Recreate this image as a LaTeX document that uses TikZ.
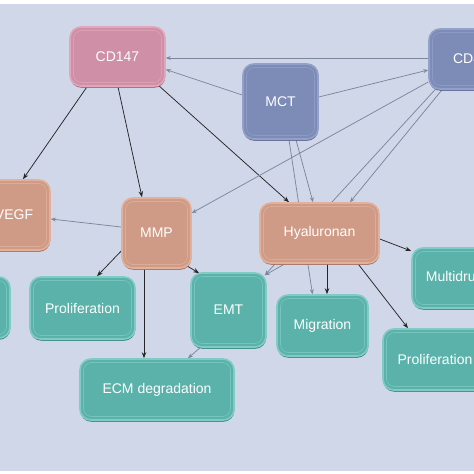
\documentclass[tikz,border=0pt]{standalone}
\usepackage{fontspec}
\setmainfont{Liberation Sans}
\usetikzlibrary{arrows.meta,calc,shadows,backgrounds}
\definecolor{bgc}{HTML}{D0D7E9}
\definecolor{pinkF}{HTML}{CF8FA6}
\definecolor{pinkD}{HTML}{A8687F}
\definecolor{pinkL}{HTML}{E6AEC0}
\definecolor{blueF}{HTML}{7D8CB7}
\definecolor{blueD}{HTML}{5C6A95}
\definecolor{blueL}{HTML}{9AA8CF}
\definecolor{oraF}{HTML}{CF9B86}
\definecolor{oraD}{HTML}{A9725F}
\definecolor{oraL}{HTML}{E8B8A3}
\definecolor{tealF}{HTML}{5AB2AA}
\definecolor{tealD}{HTML}{3B8B84}
\definecolor{tealL}{HTML}{8DD5CD}
\definecolor{darkLn}{HTML}{262626}
\definecolor{greyLn}{HTML}{7B879F}
\tikzset{
  boxbase/.style={rectangle, rounded corners=11pt, line width=1.6pt, text=white,
    font=\fontsize{14}{16}\selectfont, inner sep=0pt},
  bx/.style n args={3}{boxbase, fill=#1, draw=#3!75!#1,
    drop shadow={shadow xshift=0.3pt, shadow yshift=-1.8pt, opacity=0.9, fill=#2},
    path picture={\draw[#3!55!#1, line width=0.7pt, rounded corners=8pt]
      ([shift={(3.5pt,3.5pt)}]path picture bounding box.south west) rectangle
      ([shift={(-3.5pt,-3.5pt)}]path picture bounding box.north east);}},
  pinkbox/.style={bx={pinkF}{pinkD}{pinkL}},
  bluebox/.style={bx={blueF}{blueD}{blueL}},
  orabox/.style={bx={oraF}{oraD}{oraL}},
  tealbox/.style={bx={tealF}{tealD}{tealL}},
  sz/.style 2 args={minimum width=#1pt, minimum height=#2pt},
  dk/.style={draw=darkLn, line width=0.75pt, -{Stealth[length=6pt,width=4.5pt]}},
  gr/.style={draw=greyLn, line width=0.75pt, -{Stealth[length=5pt,width=4pt]}}
}
\begin{document}
\begin{tikzpicture}[x=1pt,y=-1pt]
\useasboundingbox (0,0) rectangle (474,474);
\begin{pgfonlayer}{background}
\fill[white] (0,0) rectangle (474,474);
\fill[bgc] (0,4) rectangle (474,471);
\end{pgfonlayer}
% nodes
\node[pinkbox, sz={95}{59}] (cd147) at (117.5,56.5) {CD147};
\node[bluebox, sz={75}{75}] (mct) at (280.5,101.5) {MCT};
\node[bluebox, sz={84}{60}] (cd44) at (471,59) {CD44};
\node[orabox, sz={72}{70}] (vegf) at (14,215) {VEGF};
\node[orabox, sz={69}{70}] (mmp) at (156.5,233) {MMP};
\node[orabox, sz={119}{60}] (hya) at (319.5,233) {Hyaluronan};
\node[tealbox, sz={153}{60}] (multi) at (488.5,278) {Multidrug resistance};
\node[tealbox, sz={80}{61}] (leftn) at (-30,307.5) {};
\node[tealbox, sz={105}{62}] (prolL) at (82.5,308) {Proliferation};
\node[tealbox, sz={75}{74}] (emt) at (228.5,310) {EMT};
\node[tealbox, sz={91}{61}] (mig) at (322.5,325.5) {Migration};
\node[tealbox, sz={104}{61}] (prolR) at (435,359.5) {Proliferation};
\node[tealbox, sz={154}{61}] (ecm) at (157,389.5) {ECM degradation};
% connectors
\begin{pgfonlayer}{background}
\draw[dk] ($(cd147.south)+(-30.5,0)$) -- ($(vegf.north)+(9,0)$);
\draw[dk] ($(cd147.south)+(0.5,0)$) -- ($(mmp.north)+(-14.5,0)$);
\draw[dk] ($(cd147.south east)+(-8,-2)$) -- ($(hya.north)+(-30.5,0)$);
\draw[dk] ($(mmp.west)+(0,18)$) -- ($(prolL.north)+(14.5,0)$);
\draw[dk] ($(mmp.south east)+(-5,-3)$) -- ($(emt.north west)+(9,1)$);
\draw[dk] ($(mmp.south)+(-12.5,0)$) -- ($(ecm.north)+(-13,0)$);
\draw[dk] ($(hya.east)+(0,6)$) -- ($(multi.west)+(0,-27)$);
\draw[dk] ($(hya.south)+(7.5,0)$) -- ($(mig.north)+(4.5,0)$);
\draw[dk] ($(hya.south)+(38.5,0)$) -- ($(prolR.north)+(-27,0)$);
\draw[gr] ($(cd44.west)+(0,-1)$) -- ($(cd147.east)+(0,1.5)$);
\draw[gr] ($(mct.west)+(0,-6.5)$) -- ($(cd147.east)+(0,13)$);
\draw[gr] ($(mct.east)+(0,-4.5)$) -- ($(cd44.west)+(0,11)$);
\draw[gr] ($(cd44.west)+(0,23)$) -- ($(mmp.east)+(0,-20)$);
\draw[gr] ($(cd44.south)+(-29,0)$) -- ($(hya.north)+(30.5,0)$);
\draw[gr] ($(cd44.south)+(-36,0)$) -- ($(emt.north east)+(-2,3)$);
\draw[gr] ($(hya.south)+(-34.5,0)$) -- ($(emt.north east)+(-2,3)$);
\draw[gr] ($(mct.south)+(8.5,0)$) -- ($(mig.north)+(-10,0)$);
\draw[gr] ($(mct.south)+(15.5,0)$) -- ($(hya.north)+(-6.5,0)$);
\draw[gr] ($(mmp.west)+(0,-6)$) -- ($(vegf.east)+(0,4)$);
\draw[gr] ($(emt.south)+(-28.5,0)$) -- ($(ecm.north)+(31,0)$);
\end{pgfonlayer}
\end{tikzpicture}
\end{document}
